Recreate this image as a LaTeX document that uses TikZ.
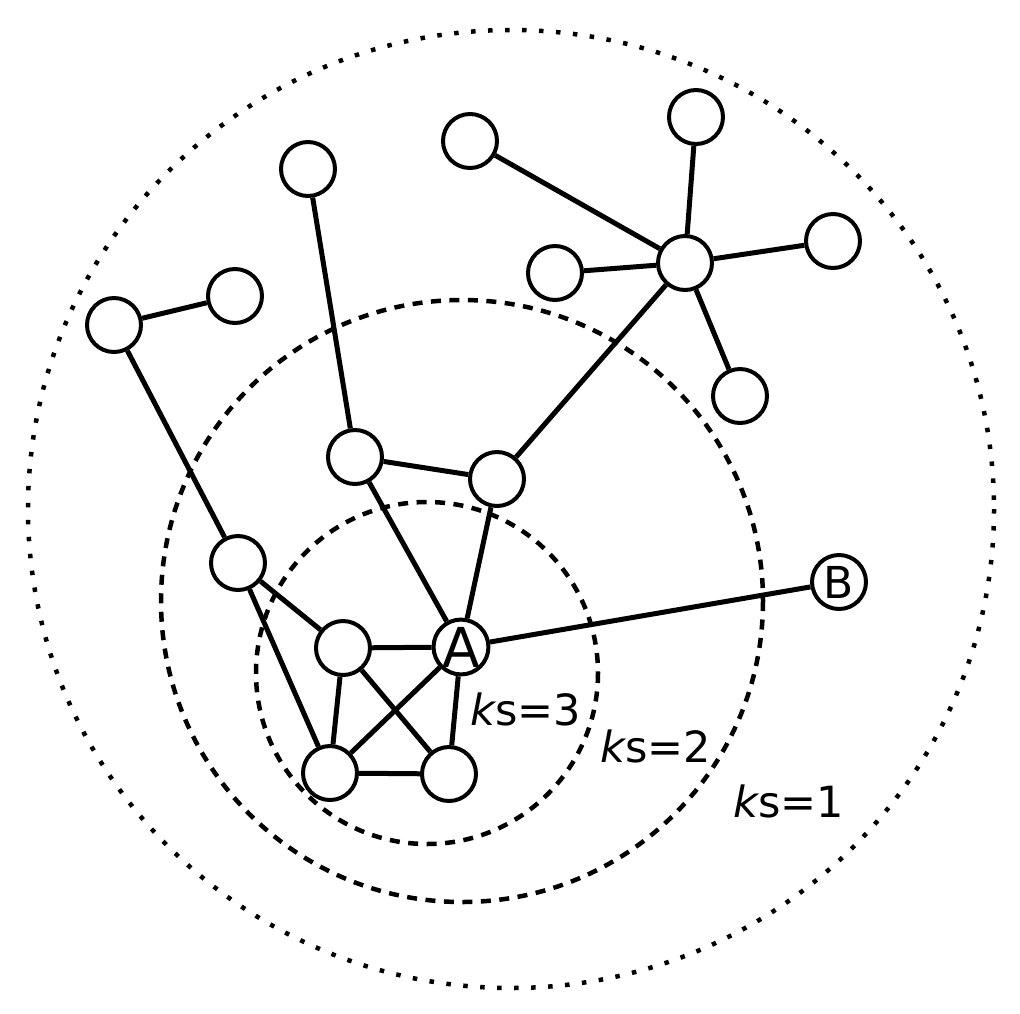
\documentclass[tikz,border=0pt]{standalone}
\usepackage{fontspec}
\setmainfont{DejaVu Sans}
\begin{document}
\begin{tikzpicture}[x=1pt,y=-1pt,
  vtx/.style={circle,draw,line width=4pt,minimum size=54pt,inner sep=0pt,fill=white},
  edge/.style={line width=5pt},
  ring1/.style={line width=4.5pt,dash pattern=on 4.5pt off 12.5pt},
  ring2/.style={line width=4.5pt,dash pattern=on 10pt off 8.5pt},
  lab/.style={anchor=base west,inner sep=0pt,font=\fontsize{43}{50}\selectfont}]
\useasboundingbox (0,0) rectangle (1020,1013);
\draw[ring1] (511,509) ellipse [x radius=483, y radius=479];
\draw[ring2] (462,601) circle [radius=301];
\draw[ring2] (427,673) circle [radius=171];
\node[vtx] (n1) at (114,325) {};
\node[vtx] (n2) at (235,296) {};
\node[vtx] (n3) at (308,169) {};
\node[vtx] (n4) at (470,141) {};
\node[vtx] (n5) at (696,117) {};
\node[vtx] (n6) at (555,273) {};
\node[vtx] (n7) at (685,263) {};
\node[vtx] (n8) at (833,241) {};
\node[vtx] (n9) at (740,396) {};
\node[vtx] (n10) at (355,457) {};
\node[vtx] (n11) at (497,479) {};
\node[vtx] (n12) at (238,563) {};
\node[vtx] (n13) at (343,648) {};
\node[vtx,font=\fontsize{55}{60}\selectfont] (A) at (461,647) {A};
\node[vtx,font=\fontsize{44}{50}\selectfont] (B) at (839,582) {B};
\node[vtx] (n14) at (330,773) {};
\node[vtx] (n15) at (449,774) {};
\foreach \a/\b in {n1/n2,n1/n12,n3/n10,n4/n7,n5/n7,n6/n7,n7/n8,n7/n9,n7/n11,
  n10/n11,n10/A,n11/A,n12/n13,n12/n14,n13/A,n13/n14,n13/n15,A/n14,A/n15,n14/n15,A/B}
  \draw[edge] (\a) -- (\b);
\node[lab] (l3) at (470,725) {\itshape k\upshape s=3};
\node[lab] (l2) at (600,762) {\itshape k\upshape s=2};
\node[lab] (l1) at (733,817) {\itshape k\upshape s=1};
\end{tikzpicture}
\end{document}
